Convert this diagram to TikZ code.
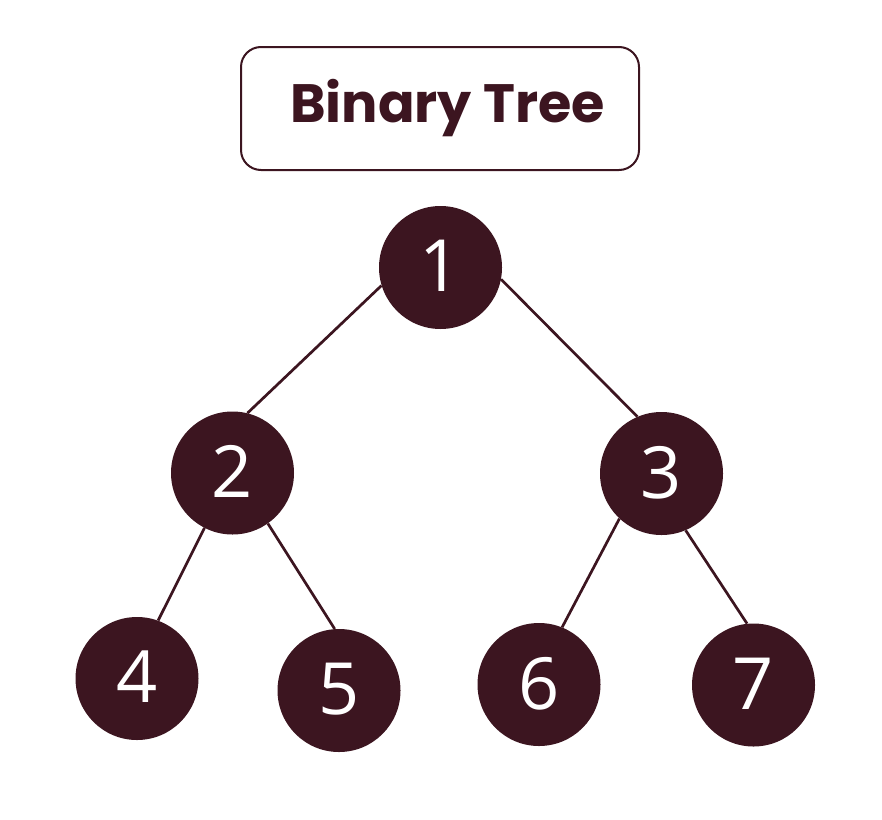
\documentclass[tikz,border=0pt]{standalone}
\usepackage{fontspec}
\newfontfamily\titlefont{Poppins}
\newfontfamily\digitfont{Open Sans}
\definecolor{maroon}{HTML}{3C1520}
\begin{document}
\begin{tikzpicture}[x=1pt,y=-1pt,
  treenode/.style={circle,fill=maroon,minimum size=123pt,inner sep=0pt,text=white,font=\digitfont\fontsize{72}{72}\selectfont},
  edge/.style={draw=maroon,line width=2.7pt},
  titlebox/.style={draw=maroon,line width=2pt,rounded corners=20pt,minimum width=398pt,minimum height=123pt,text=maroon,font=\titlefont\bfseries\fontsize{54}{54}\selectfont}]
\useasboundingbox (0,0) rectangle (882,819);
\node[titlebox] (title) at (440,108.5) {\hspace*{15pt}Binary Tree};
\node[treenode] (n1) at (440.5,267.5) {\raisebox{3pt}{1}};
\node[treenode] (n2) at (232.5,473) {\raisebox{3pt}{2}};
\node[treenode] (n3) at (661.5,473.5) {\raisebox{3pt}{3}};
\node[treenode] (n4) at (137,678.5) {\raisebox{3pt}{4}};
\node[treenode] (n5) at (339,690.5) {\raisebox{3pt}{5}};
\node[treenode] (n6) at (539,684.5) {\raisebox{3pt}{6}};
\node[treenode] (n7) at (753.5,685) {\raisebox{3pt}{7}};
\draw[edge] (n1.-163) -- (n2.76);
\draw[edge] (n1.-11) -- (n3.113);
\draw[edge] (n2.-117) -- (n4.70);
\draw[edge] (n2.-55) -- (n5.94);
\draw[edge] (n3.-133) -- (n6.68);
\draw[edge] (n3.-67) -- (n7.96);
\end{tikzpicture}
\end{document}
